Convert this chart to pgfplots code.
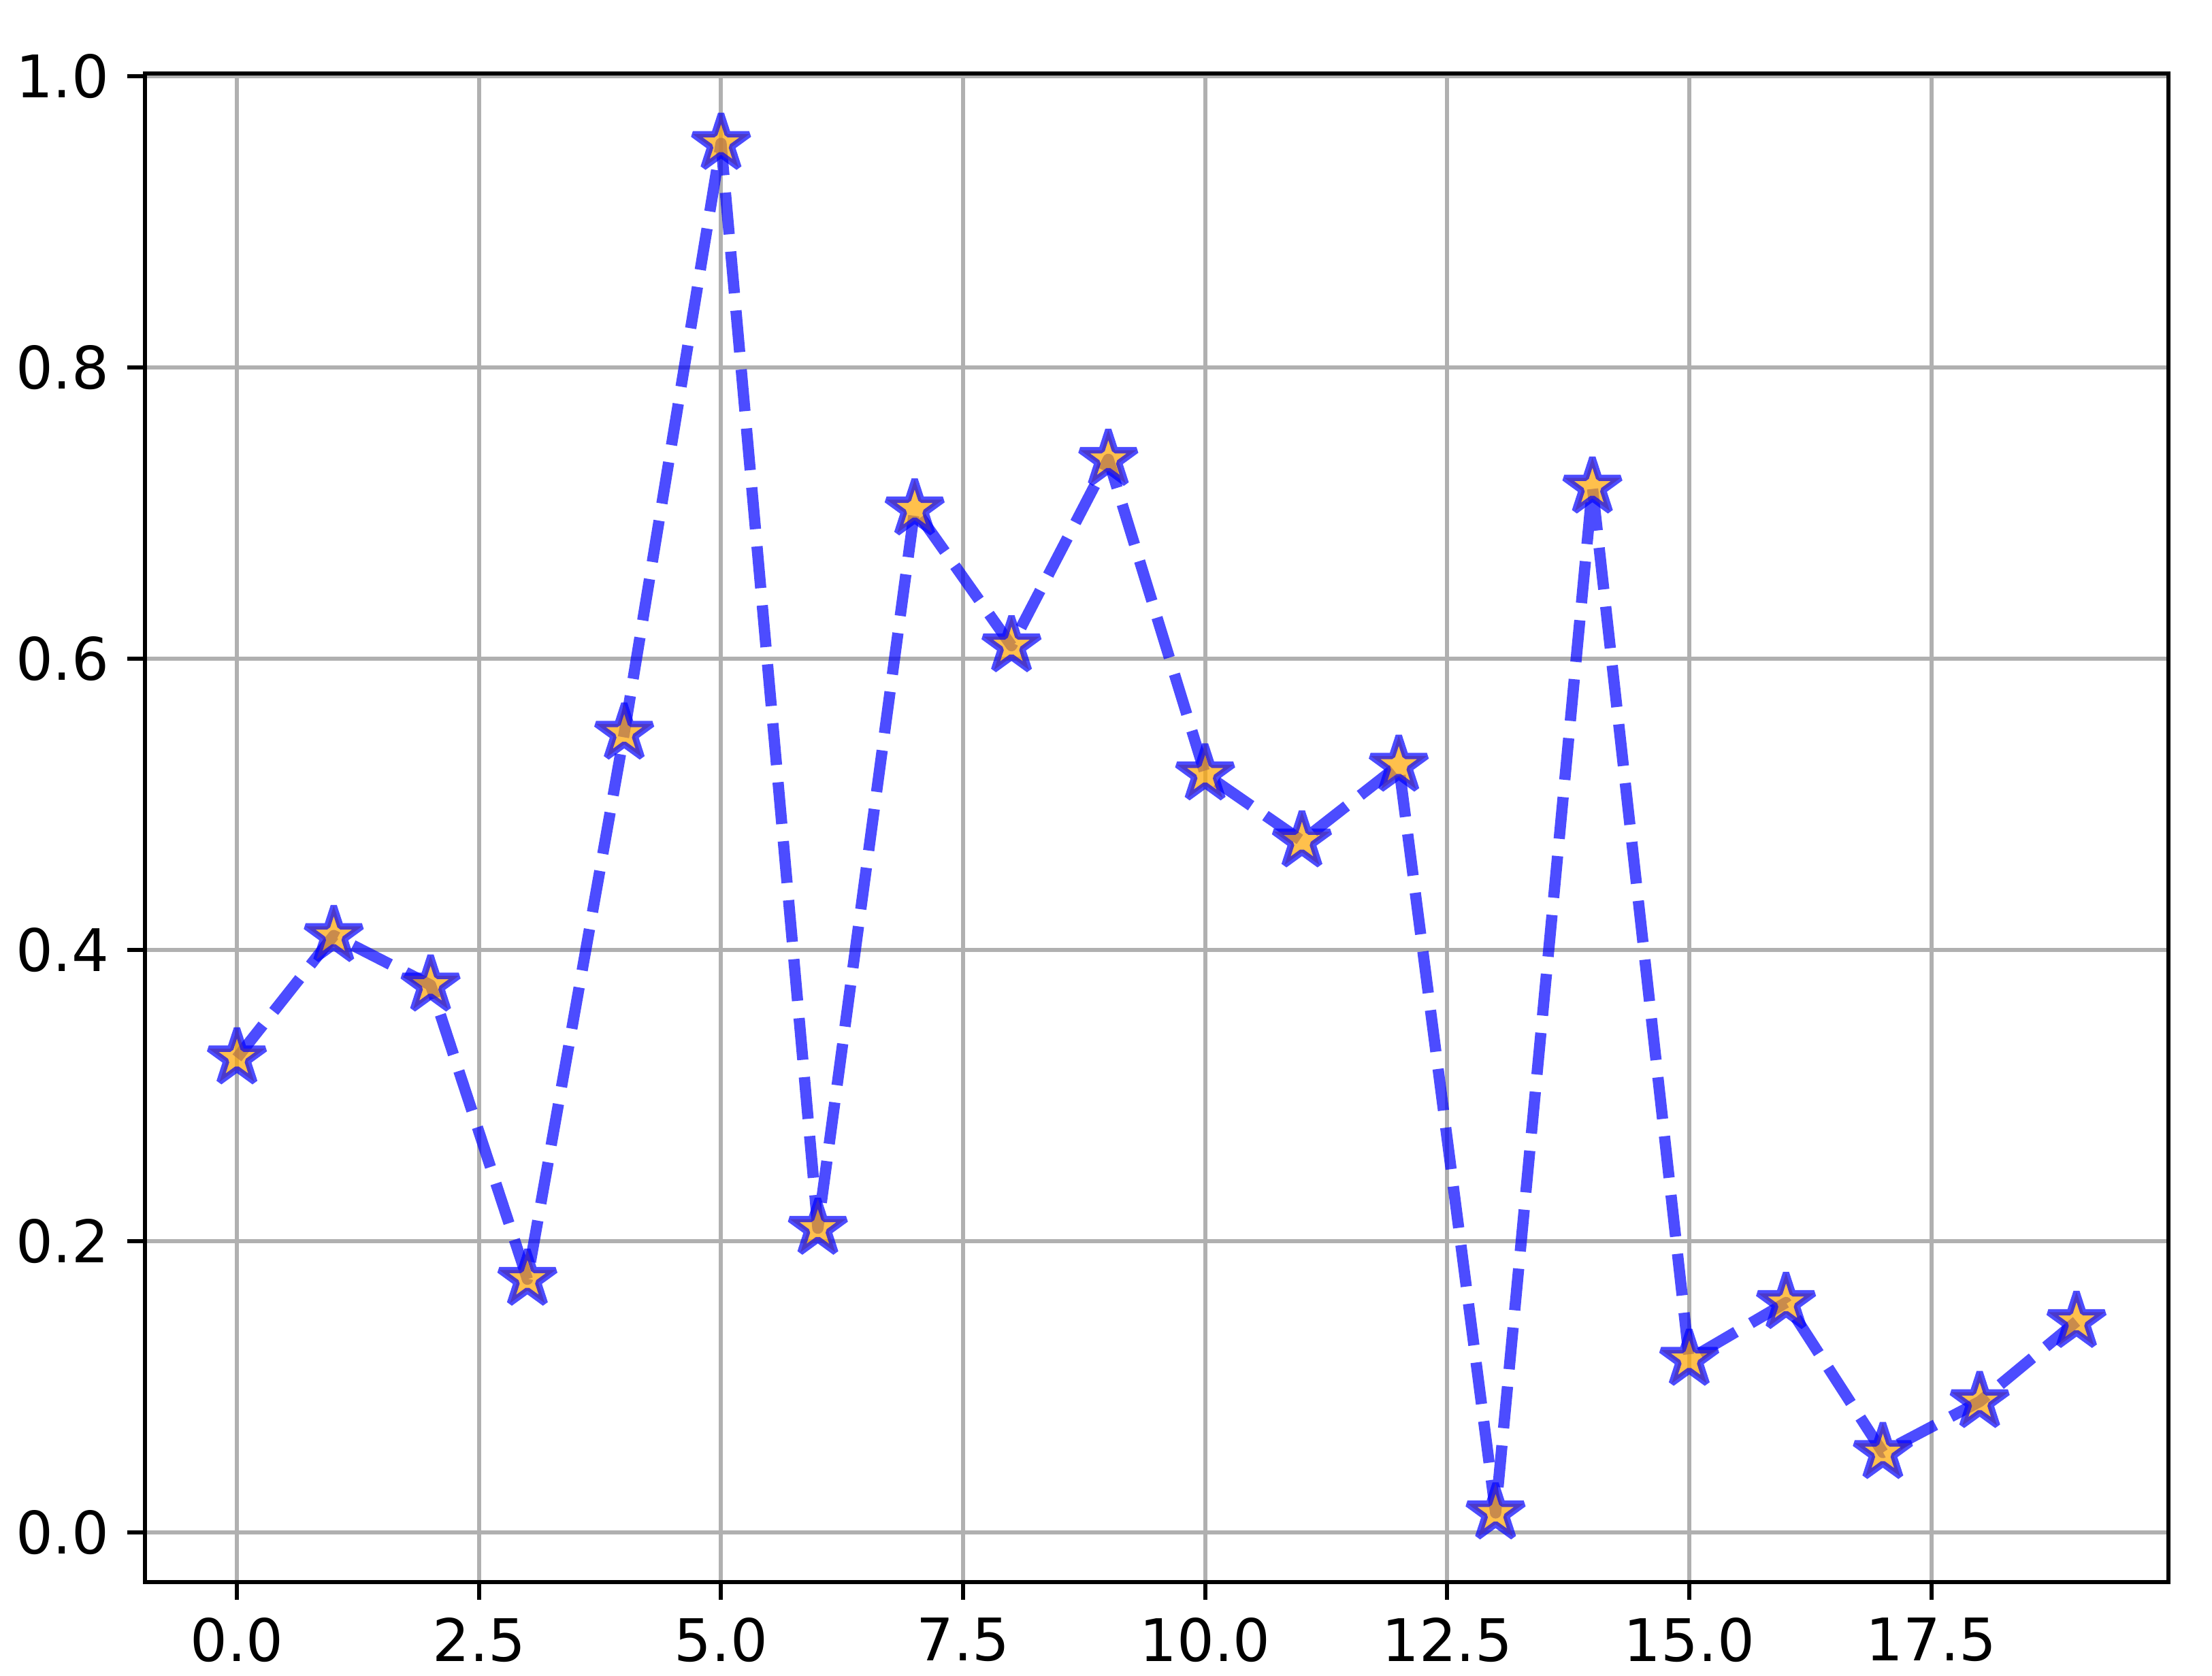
\documentclass[border=0pt]{standalone}
\usepackage{fontspec}
\setmainfont{DejaVu Sans}
\usepackage{pgfplots}
\pgfplotsset{compat=1.18}
\usetikzlibrary{calc}

\definecolor{mplorange}{HTML}{FFA500}
\definecolor{mplblue}{HTML}{0000FF}
\definecolor{gridgray}{HTML}{B0B0B0}

% filled five-pointed star, like matplotlib's '*'
\pgfdeclareplotmark{mstar}{%
  \pgfpathmoveto{\pgfpointpolar{90}{\pgfplotmarksize}}%
  \pgfpathlineto{\pgfpointpolar{126}{0.381966\pgfplotmarksize}}%
  \pgfpathlineto{\pgfpointpolar{162}{\pgfplotmarksize}}%
  \pgfpathlineto{\pgfpointpolar{198}{0.381966\pgfplotmarksize}}%
  \pgfpathlineto{\pgfpointpolar{234}{\pgfplotmarksize}}%
  \pgfpathlineto{\pgfpointpolar{270}{0.381966\pgfplotmarksize}}%
  \pgfpathlineto{\pgfpointpolar{306}{\pgfplotmarksize}}%
  \pgfpathlineto{\pgfpointpolar{342}{0.381966\pgfplotmarksize}}%
  \pgfpathlineto{\pgfpointpolar{18}{\pgfplotmarksize}}%
  \pgfpathlineto{\pgfpointpolar{54}{0.381966\pgfplotmarksize}}%
  \pgfpathclose
  \pgfusepathqfillstroke
}

\begin{document}
\begin{tikzpicture}
\begin{axis}[
    name=ax,
    scale only axis,
    width=396.4pt, height=295.6pt,
    xmin=-0.95, xmax=19.95,
    ymin=-0.034, ymax=1.002,
    xtick={0,2.5,5,7.5,10,12.5,15,17.5},
    ytick={0,0.2,0.4,0.6,0.8,1.0},
    /pgf/number format/fixed,
    /pgf/number format/fixed zerofill,
    /pgf/number format/precision=1,
    /pgf/number format/assume math mode=true,
    tick pos=left,
    tick align=outside,
    major tick length=3.5pt,
    every tick/.style={black, line width=0.8pt},
    axis line style={black, line width=0.8pt},
    grid=major,
    major grid style={gridgray, line width=0.8pt},
    font=\fontsize{11.5}{13.8}\selectfont,
]
\addplot[
    mplblue, opacity=0.7, line width=2.2pt, line cap=butt, line join=round,
    dash pattern=on 8.2pt off 3.4pt,
    mark=mstar, mark size=5.8pt,
    mark options={solid, fill=mplorange, draw=mplblue, line width=1.25pt, line join=bevel, opacity=0.7},
] coordinates {
    (0,0.326) (1,0.410) (2,0.376) (3,0.174) (4,0.549)
    (5,0.954) (6,0.209) (7,0.703) (8,0.609) (9,0.737)
    (10,0.521) (11,0.475) (12,0.527) (13,0.0135) (14,0.718)
    (15,0.119) (16,0.158) (17,0.055) (18,0.090) (19,0.145)
};
\end{axis}
\pgfresetboundingbox
\path[use as bounding box] ($(ax.south west)+(-28.4pt,-18.27pt)$) rectangle ($(ax.north east)+(8.53pt,14.4pt)$);
\end{tikzpicture}
\end{document}
